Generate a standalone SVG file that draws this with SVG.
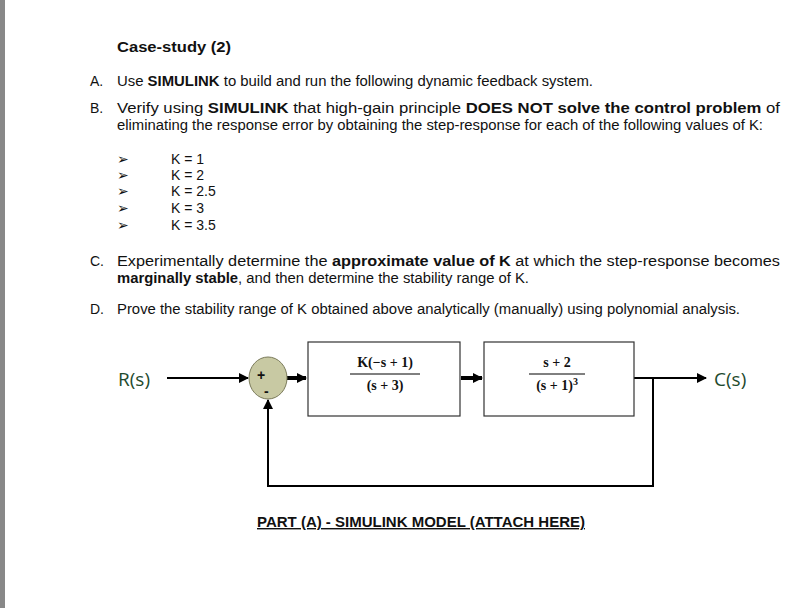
<svg xmlns="http://www.w3.org/2000/svg" width="804" height="608" viewBox="0 0 804 608">
<defs>
<style>
text{font-family:"Liberation Sans",Arial,sans-serif;font-size:14px;fill:#111}
.b{font-weight:bold}
.m{font-family:"Liberation Serif","Times New Roman",serif;font-weight:bold;font-size:14px}
.g{font-family:"Open Sans","DejaVu Sans",sans-serif;font-size:19px;fill:#1e4a2e}
.box{fill:#fff;stroke:#333;stroke-width:1.2}
.ln{stroke:#000;stroke-width:2;fill:none}
</style>
<marker id="ah" markerWidth="10" markerHeight="10" refX="9" refY="5" orient="auto" markerUnits="userSpaceOnUse"><path d="M0,0 L10,5 L0,10 Z" fill="#000"/></marker>
</defs>
<rect width="804" height="608" fill="#fff"/>
<rect x="0" y="0" width="5" height="608" fill="#888"/>
<text x="117" y="52" class="b" font-size="15" textLength="114" lengthAdjust="spacingAndGlyphs">Case-study (2)</text>
<text x="90" y="86">A.</text>
<text x="117" y="86" textLength="476" lengthAdjust="spacingAndGlyphs">Use <tspan class="b">SIMULINK</tspan> to build and run the following dynamic feedback system.</text>
<text x="90" y="113">B.</text>
<text x="117" y="113" textLength="663" lengthAdjust="spacingAndGlyphs">Verify using <tspan class="b">SIMULINK</tspan> that high-gain principle <tspan class="b">DOES NOT solve the control problem</tspan> of</text>
<text x="117" y="130" textLength="646" lengthAdjust="spacingAndGlyphs">eliminating the response error by obtaining the step-response for each of the following values of K:</text>
<g font-size="13">
<text x="117" y="164">➢</text><text x="171" y="164">K = 1</text>
<text x="117" y="180">➢</text><text x="171" y="180">K = 2</text>
<text x="117" y="196">➢</text><text x="171" y="196">K = 2.5</text>
<text x="117" y="213">➢</text><text x="171" y="213">K = 3</text>
<text x="117" y="230">➢</text><text x="171" y="230">K = 3.5</text>
</g>
<text x="90" y="266">C.</text>
<text x="117" y="266" textLength="663" lengthAdjust="spacingAndGlyphs">Experimentally determine the <tspan class="b">approximate value of K</tspan> at which the step-response becomes</text>
<text x="117" y="283" textLength="412" lengthAdjust="spacingAndGlyphs"><tspan class="b">marginally stable</tspan>, and then determine the stability range of K.</text>
<text x="90" y="314">D.</text>
<text x="117" y="314" textLength="623" lengthAdjust="spacingAndGlyphs">Prove the stability range of K obtained above analytically (manually) using polynomial analysis.</text>
<g id="connectors">
<line class="ln" x1="167" y1="378" x2="248" y2="378" marker-end="url(#ah)"/>
<line x1="287" y1="378" x2="306" y2="378" stroke="#000" stroke-width="4" marker-end="url(#ah)"/>
<line x1="461" y1="378" x2="482" y2="378" stroke="#000" stroke-width="4" marker-end="url(#ah)"/>
<line class="ln" x1="634" y1="378" x2="706" y2="378" marker-end="url(#ah)"/>
<polyline class="ln" points="653,378 653,486 268,486 268,400" marker-end="url(#ah)"/>
</g>
<g id="R"><text x="118" y="386" class="g">R(s)</text></g>
<g id="C"><text x="714" y="386" class="g">C(s)</text></g>
<g id="sum">
<ellipse cx="268" cy="378" rx="19" ry="21" fill="#c8c9a3" stroke="#7a7a5a"/>
<text x="257" y="380" font-size="13" fill="#1e4a2e" class="b">+</text>
<text x="264" y="396" font-size="16" class="b">-</text>
</g>
<g id="G1">
<rect class="box" x="308" y="342" width="152" height="74"/>
<text x="385" y="367" class="m" text-anchor="middle">K(−s + 1)</text>
<line x1="350" y1="374" x2="420" y2="374" stroke="#000"/>
<text x="385" y="390" class="m" text-anchor="middle">(s + 3)</text>
</g>
<g id="G2">
<rect class="box" x="484" y="342" width="150" height="74"/>
<text x="557" y="367" class="m" text-anchor="middle">s + 2</text>
<line x1="529" y1="374" x2="585" y2="374" stroke="#000"/>
<text x="557" y="390" class="m" text-anchor="middle">(s + 1)<tspan font-size="10" dy="-5">3</tspan></text>
</g>
<text x="257" y="527" class="b" text-decoration="underline" textLength="328" lengthAdjust="spacingAndGlyphs">PART (A) - SIMULINK MODEL (ATTACH HERE)</text>
</svg>
